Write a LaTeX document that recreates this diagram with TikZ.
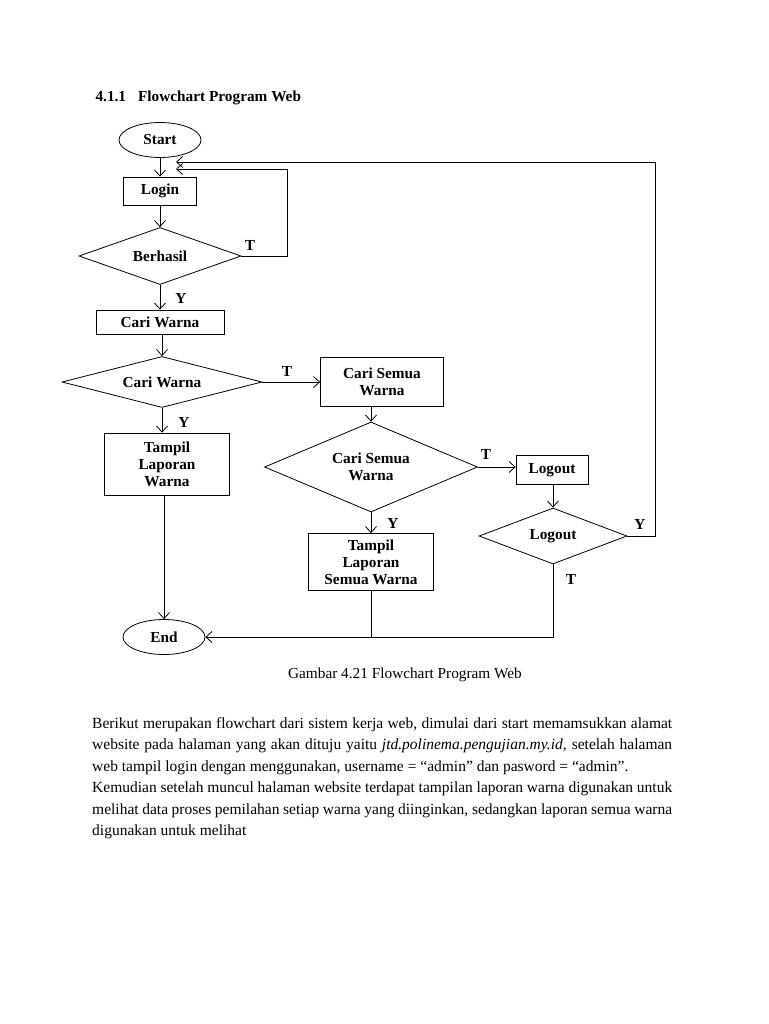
\documentclass[tikz,border=0pt]{standalone}
\usepackage{fontspec}
\setmainfont{Liberation Serif}
\usetikzlibrary{shapes.geometric,arrows.meta}

\tikzset{
  term/.style={draw, ellipse, thick, inner sep=0pt, minimum width=82pt, minimum height=35pt, font=\fontsize{15.3}{17}\selectfont\bfseries},
  proc/.style={draw, thick, inner sep=0pt, align=center, font=\fontsize{15.3}{17}\selectfont\bfseries},
  cond/.style={draw, diamond, thick, inner sep=0pt, align=center, font=\fontsize{15.3}{17}\selectfont\bfseries},
  flow/.style={thick, -{Straight Barb[length=6pt,width=11pt]}},
  link/.style={thick},
  lbl/.style={font=\fontsize{15.3}{17}\selectfont\bfseries},
}

\begin{document}
\begin{tikzpicture}[x=1pt, y=-1pt]
  \useasboundingbox (0,0) rectangle (768,1024);

  % heading
  \node[lbl, anchor=base west] (head) at (92,102) {4.1.1\hspace{12pt}Flowchart Program Web};

  % left column
  \node[term] (start) at (160,140) {Start};
  \node[proc, minimum width=73pt, minimum height=28pt] (login) at (160,191) {Login};
  \node[cond, aspect=2.8, minimum width=162pt, minimum height=57pt] (berhasil) at (160,256) {Berhasil};
  \node[proc, minimum width=128pt, minimum height=24pt] (cari) at (160,322) {Cari Warna};
  \node[cond, aspect=3.9, minimum width=200pt, minimum height=51pt] (caricond) at (162,382) {Cari Warna};
  \node[proc, minimum width=125pt, minimum height=62pt] (tampil) at (167,464) {Tampil\\Laporan\\Warna};
  \node[term] (end) at (164,637) {End};

  % middle column
  \node[proc, minimum width=123pt, minimum height=49pt] (semua) at (382,382) {Cari Semua\\Warna};
  \node[cond, aspect=2.4, minimum width=213pt, minimum height=90pt] (semuacond) at (371,467) {Cari Semua\\Warna};
  \node[proc, minimum width=125pt, minimum height=57pt] (tampilsemua) at (371,562) {Tampil\\Laporan\\Semua Warna};

  % right column
  \node[proc, minimum width=72pt, minimum height=29pt] (logout) at (552,470) {Logout};
  \node[cond, aspect=2.6, minimum width=148pt, minimum height=56pt] (logoutcond) at (553,536) {Logout};

  % loop back points
  \coordinate (loopA) at (287,169);
  \coordinate (backA) at (176,169);
  \coordinate (loopB) at (655,162);
  \coordinate (backB) at (176,162);

  % connectors
  \draw[flow] (start) -- (login);
  \draw[flow] (login) -- (berhasil);
  \draw[flow] (berhasil.east) -| (loopA) -- (backA);
  \draw[flow] (berhasil) -- (cari);
  \draw[flow] (caricond.north |- cari.south) -- (caricond.north);
  \draw[flow] (caricond.east) -- (semua.west);
  \draw[flow] (caricond.south) -- (caricond.south |- tampil.north);
  \draw[flow] (tampil.south -| end.north) -- (end.north);
  \draw[flow] (semuacond.north |- semua.south) -- (semuacond.north);
  \draw[flow] (semuacond.east) -- (semuacond.east -| logout.west);
  \draw[flow] (semuacond) -- (tampilsemua);
  \draw[flow] (logout.south -| logoutcond.north) -- (logoutcond.north);
  \draw[flow] (logoutcond.east) -| (loopB) -- (backB);
  \draw[link] (tampilsemua.south) -- (tampilsemua.south |- end.east);
  \draw[flow] (logoutcond.south) |- (end.east);

  % branch labels
  \node[lbl] (tBerhasil) at (250,245) {T};
  \node[lbl] (yBerhasil) at (181,298) {Y};
  \node[lbl] (tCari) at (287,371) {T};
  \node[lbl] (yCari) at (184,422) {Y};
  \node[lbl] (tSemua) at (486,454) {T};
  \node[lbl] (ySemua) at (393,523) {Y};
  \node[lbl] (yLogout) at (640,524) {Y};
  \node[lbl] (tLogout) at (571,579) {T};

  % caption and text
  \node[font=\fontsize{15.3}{17}\selectfont] (caption) at (405,675) {Gambar 4.21 Flowchart Program Web};
  \node[anchor=north west, inner sep=0pt, text width=580pt, align=justify,
        font=\fontsize{15.5}{21.5}\selectfont] (body) at (92,717)
  {Berikut merupakan flowchart dari sistem kerja web, dimulai dari start memamsukkan alamat\linebreak
   website pada halaman yang akan dituju yaitu \textit{jtd.polinema.pengujian.my.id,} setelah halaman\linebreak
   web tampil login dengan menggunakan, username = “admin” dan pasword = “admin”.\newline
   Kemudian setelah muncul halaman website terdapat tampilan laporan warna digunakan untuk\linebreak
   melihat data proses pemilahan setiap warna yang diinginkan, sedangkan laporan semua warna\linebreak
   digunakan untuk melihat};
\end{tikzpicture}
\end{document}
